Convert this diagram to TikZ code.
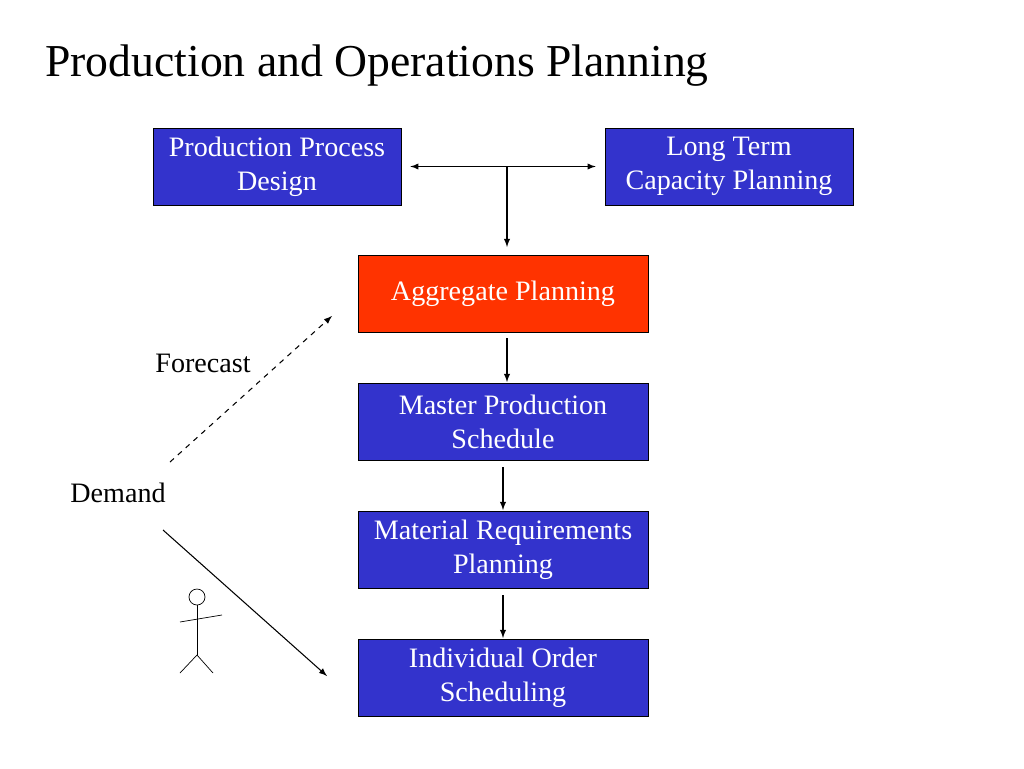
\documentclass[tikz,border=0pt]{standalone}
\usepackage{fontspec}
\setmainfont{Liberation Serif}
\usetikzlibrary{arrows}
\tikzset{
  box/.style={draw=black, minimum width=4.96cm, minimum height=1.54cm, align=center, text=white, font=\fontsize{16}{19.3}\selectfont, inner sep=0pt},
  lbl/.style={font=\fontsize{16}{19.3}\selectfont},
  arr/.style={->, >=latex, semithick}
}
\definecolor{boxblue}{HTML}{3333CC}
\definecolor{boxred}{HTML}{FF3300}
\begin{document}
\begin{tikzpicture}[x=0.02cm, y=-0.02cm]
\useasboundingbox (0,0) rectangle (1024,768);
\node[anchor=base west, font=\fontsize{26}{31}\selectfont] (title) at (39,76) {Production and Operations Planning};
\node[box, fill=boxblue] (ppd) at (277,166.5) {Production Process\\Design};
\node[box, fill=boxblue] (ltcp) at (729,166.5) {Long Term\\Capacity Planning};
\node[box, fill=boxred, minimum width=5.8cm] (ap) at (503,294) {Aggregate Planning};
\node[box, fill=boxblue, minimum width=5.8cm] (mps) at (503,422) {Master Production\\Schedule};
\node[box, fill=boxblue, minimum width=5.8cm] (mrp) at (503,550) {Material Requirements\\Planning};
\node[box, fill=boxblue, minimum width=5.8cm] (ios) at (503,678) {Individual Order\\Scheduling};
\node[lbl] (fc) at (203,363) {Forecast};
\node[lbl] (dm) at (118,493) {Demand};
% connectors
\coordinate (mid) at (507,166.5);
\draw[arr, <->] ([xshift=0.18cm]ppd.east) -- ([xshift=-0.18cm]ltcp.west);
\draw[arr] (mid) -- (507,247);
\draw[arr] (507,338) -- (507,382);
\draw[arr] (503,467) -- (503,510);
\draw[arr] (503,595) -- (503,638);
\coordinate (fcs) at (170,462);
\coordinate (fce) at (332,316);
\draw[arr, dashed] (fcs) -- (fce);
\coordinate (dms) at (163,530);
\coordinate (dme) at (327,676);
\draw[arr] (dms) -- (dme);
% stick figure
\draw (197,597) circle (8);
\draw (197,605) -- (197,655);
\draw (180,622) -- (222,615);
\draw (180,673) -- (197,655) -- (213,673);
\end{tikzpicture}
\end{document}
